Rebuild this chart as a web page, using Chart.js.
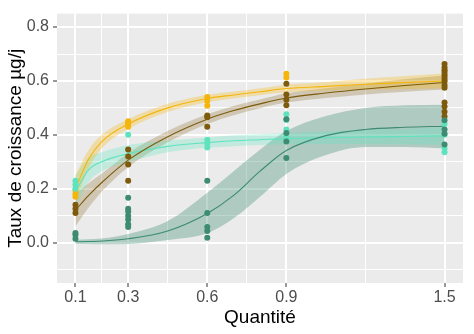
<!DOCTYPE html>
<html>
<head>
<meta charset="utf-8">
<script src="https://cdn.jsdelivr.net/npm/chart.js@4"></script>
<style>
  html, body { margin: 0; padding: 0; background: #fff; }
</style>
</head>
<body>
<canvas id="growthChart" width="474" height="334"></canvas>
<script>
// x breaks and minor grid positions
const quantities = [0.1, 0.3, 0.6, 0.9, 1.5];
const minorX = [0.2, 0.45, 0.75, 1.2];
const yTicks = [0, 0.2, 0.4, 0.6, 0.8];
const minorY = [-0.1, 0.1, 0.3, 0.5, 0.7];

// observed values, one list per quantity
const goldObs = [[0.195, 0.18, 0.17], [0.45, 0.445, 0.44, 0.43], [0.54, 0.526, 0.508], [0.627, 0.613], [0.64, 0.62, 0.60]];
const brownObs = [[0.14, 0.126, 0.11], [0.346, 0.32, 0.29, 0.23], [0.472, 0.465, 0.43], [0.59, 0.55, 0.53, 0.51],
  [0.663, 0.65, 0.64, 0.63, 0.62, 0.61, 0.60, 0.585, 0.575, 0.52, 0.505, 0.486, 0.468]];
const aquaObs = [[0.23, 0.215, 0.20], [0.40, 0.345], [0.382, 0.368, 0.353], [0.476, 0.455, 0.42, 0.39], [0.44, 0.40, 0.35, 0.335]];
const tealObs = [[0.036, 0.029, 0.014], [0.166, 0.126, 0.115, 0.10, 0.086, 0.068, 0.058], [0.23, 0.11, 0.058, 0.043, 0.018],
  [0.458, 0.407, 0.375, 0.314], [0.454, 0.42, 0.404, 0.364]];

// fitted curves with confidence band
const fitX = [0.1, 0.15, 0.2, 0.3, 0.45, 0.6, 0.7, 0.8, 0.9, 1.05, 1.2, 1.35, 1.5];
const goldFit = [0.20, 0.31, 0.375, 0.44, 0.50, 0.535, 0.548, 0.56, 0.572, 0.58, 0.588, 0.594, 0.60];
const goldLo = [0.15, 0.275, 0.35, 0.422, 0.485, 0.521, 0.535, 0.547, 0.558, 0.564, 0.568, 0.570, 0.572];
const goldHi = [0.25, 0.345, 0.40, 0.458, 0.515, 0.549, 0.561, 0.573, 0.586, 0.596, 0.608, 0.618, 0.628];
const brownFit = [0.12, 0.175, 0.223, 0.306, 0.393, 0.458, 0.49, 0.515, 0.537, 0.555, 0.57, 0.583, 0.594];
const brownLo = [0.06, 0.13, 0.19, 0.28, 0.372, 0.44, 0.473, 0.499, 0.52, 0.537, 0.55, 0.56, 0.568];
const brownHi = [0.18, 0.22, 0.256, 0.332, 0.414, 0.476, 0.507, 0.531, 0.554, 0.573, 0.59, 0.606, 0.62];
const aquaFit = [0.19, 0.27, 0.30, 0.33, 0.357, 0.371, 0.378, 0.382, 0.386, 0.389, 0.392, 0.394, 0.396];
const aquaLo = [0.13, 0.225, 0.265, 0.298, 0.335, 0.352, 0.358, 0.362, 0.365, 0.366, 0.366, 0.366, 0.364];
const aquaHi = [0.25, 0.315, 0.335, 0.362, 0.379, 0.39, 0.398, 0.402, 0.407, 0.412, 0.418, 0.422, 0.428];
const tealFit = [0.003, 0.004, 0.006, 0.014, 0.043, 0.108, 0.175, 0.265, 0.342, 0.397, 0.42, 0.428, 0.432];
const tealLo = [-0.004, -0.005, -0.006, -0.005, 0.01, 0.035, 0.09, 0.17, 0.255, 0.325, 0.355, 0.355, 0.35];
const tealHi = [0.01, 0.012, 0.015, 0.032, 0.08, 0.185, 0.265, 0.345, 0.414, 0.47, 0.50, 0.51, 0.512];

const series = [
  { obs: goldObs, fit: goldFit, lo: goldLo, hi: goldHi, color: '#F4B50C', band: 'rgba(244,181,12,0.3)' },
  { obs: aquaObs, fit: aquaFit, lo: aquaLo, hi: aquaHi, color: '#5FE3BE', band: 'rgba(95,227,190,0.3)' },
  { obs: brownObs, fit: brownFit, lo: brownLo, hi: brownHi, color: '#7D5A0C', band: 'rgba(125,90,12,0.25)' },
  { obs: tealObs, fit: tealFit, lo: tealLo, hi: tealHi, color: '#3D8B72', band: 'rgba(61,139,114,0.35)' }
];

function obsPoints(obs) {
  const pts = [];
  obs.forEach((ys, i) => ys.forEach(y => pts.push({ x: quantities[i], y: y })));
  return pts;
}
function curve(ys) {
  return fitX.map((x, i) => ({ x: x, y: ys[i] }));
}

const datasets = [];
series.forEach((s, k) => {
  datasets.push({ data: curve(s.hi), showLine: true, pointRadius: 0, borderWidth: 0,
    backgroundColor: s.band, fill: '+1', cubicInterpolationMode: 'monotone', order: 30 + k });
  datasets.push({ data: curve(s.lo), showLine: true, pointRadius: 0, borderWidth: 0,
    fill: false, cubicInterpolationMode: 'monotone', order: 30 + k });
  datasets.push({ data: curve(s.fit), showLine: true, pointRadius: 0, borderWidth: 1.1,
    borderColor: s.color, fill: false, cubicInterpolationMode: 'monotone', order: 20 - k });
  datasets.push({ data: obsPoints(s.obs), showLine: false, pointRadius: 3, borderWidth: 0,
    backgroundColor: s.color, pointBackgroundColor: s.color, order: 10 - k });
});

const panelBg = {
  id: 'panelBg',
  beforeDraw(chart) {
    const a = chart.chartArea, c = chart.ctx;
    c.save();
    c.fillStyle = '#EBEBEB';
    c.fillRect(a.left, a.top, a.right - a.left, a.bottom - a.top);
    c.restore();
  }
};

const isMajor = (list, v) => list.some(m => Math.abs(m - v) < 1e-6);
const fontFam = '"Liberation Sans", Arial, sans-serif';

new Chart(document.getElementById('growthChart').getContext('2d'), {
  type: 'scatter',
  data: { datasets: datasets },
  plugins: [panelBg],
  options: {
    responsive: false,
    animation: false,
    layout: { padding: { top: 7, right: 11, left: 0, bottom: 0 } },
    plugins: { legend: { display: false }, tooltip: { enabled: false } },
    scales: {
      x: {
        type: 'linear', min: 0.03, max: 1.57,
        afterBuildTicks(scale) {
          scale.ticks = quantities.concat(minorX).sort((a, b) => a - b).map(v => ({ value: v }));
        },
        afterFit(scale) { scale.height = 51; },
        border: { display: false },
        grid: {
          color: '#FFFFFF',
          lineWidth: c => isMajor(quantities, c.tick.value) ? 2 : 1,
          tickColor: c => isMajor(quantities, c.tick.value) ? '#333333' : 'rgba(0,0,0,0)',
          tickWidth: 1, tickLength: 4
        },
        ticks: {
          autoSkip: false, maxRotation: 0, padding: 1,
          color: '#4D4D4D', font: { family: fontFam, size: 16 },
          callback: v => isMajor(quantities, v) ? String(v) : ''
        },
        title: { display: true, text: 'Quantité', color: '#000', font: { family: fontFam, size: 19 },
          padding: { top: 0, bottom: 5 } }
      },
      y: {
        type: 'linear', min: -0.15, max: 0.85,
        afterBuildTicks(scale) {
          scale.ticks = yTicks.concat(minorY).sort((a, b) => a - b).map(v => ({ value: v }));
        },
        afterFit(scale) { scale.width = 57; },
        border: { display: false },
        grid: {
          color: '#FFFFFF',
          lineWidth: c => isMajor(yTicks, c.tick.value) ? 2 : 1,
          tickColor: c => isMajor(yTicks, c.tick.value) ? '#333333' : 'rgba(0,0,0,0)',
          tickWidth: 1, tickLength: 4
        },
        ticks: {
          autoSkip: false, padding: 4,
          color: '#4D4D4D', font: { family: fontFam, size: 16 },
          callback: v => isMajor(yTicks, v) ? v.toFixed(1) : ''
        },
        title: { display: true, text: 'Taux de croissance µg/j', color: '#000', font: { family: fontFam, size: 19 },
          padding: { top: 4, bottom: 0 } }
      }
    }
  }
});
</script>
</body>
</html>
